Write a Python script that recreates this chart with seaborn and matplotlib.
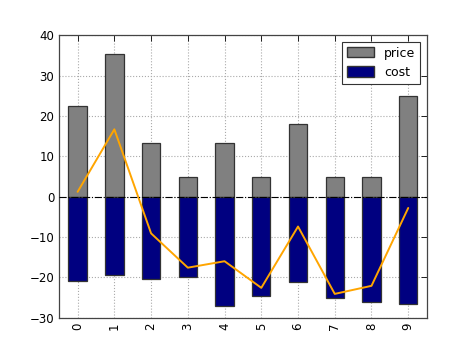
import numpy as np
import pandas as pd
import seaborn as sns
import matplotlib
matplotlib.use('Agg')
import matplotlib.pyplot as plt
from matplotlib.patches import Patch

# values
idx = [0, 1, 2, 3, 4, 5, 6, 7, 8, 9]
price = [22.4, 35.4, 13.4, 5.0, 13.4, 5.0, 17.9, 5.0, 5.0, 24.9]
cost = [-20.8, -19.5, -20.5, -19.9, -27.2, -24.5, -21.2, -25.0, -26.0, -26.5]
net = [1.2, 16.7, -9.1, -17.6, -16.0, -22.6, -7.4, -24.1, -22.1, -2.8]

df = pd.DataFrame({'idx': idx, 'price': price, 'cost': cost, 'net': net})

sns.set_style('white')
plt.rcParams['font.family'] = ['DejaVu Sans']
plt.rcParams['text.color'] = 'black'
plt.rcParams['xtick.direction'] = 'in'
plt.rcParams['ytick.direction'] = 'in'
plt.rcParams['xtick.top'] = True
plt.rcParams['ytick.right'] = True

fig, ax = plt.subplots(figsize=(4.74, 3.53), dpi=100)
fig.subplots_adjust(left=0.125, right=0.9, bottom=0.1, top=0.9)

sns.barplot(data=df, x='idx', y='price', color='gray', width=0.5,
            edgecolor='#333333', linewidth=0.9, saturation=1, ax=ax, zorder=2)
sns.barplot(data=df, x='idx', y='cost', color='navy', width=0.5,
            edgecolor='#333333', linewidth=0.9, saturation=1, ax=ax, zorder=2)
sns.lineplot(data=df, x='idx', y='net', color='orange', linewidth=1.4,
             ax=ax, zorder=3)

ax.axhline(0, color='black', linestyle='-.', linewidth=0.8, zorder=4)
ax.set_xlim(-0.5, 9.5)
ax.set_ylim(-30, 40)
ax.set_yticks([-30, -20, -10, 0, 10, 20, 30, 40])
ax.set_xticks(idx)
ax.set_xticklabels([str(i) for i in idx], rotation=90)
ax.set_xlabel('')
ax.set_ylabel('')
ax.tick_params(labelsize=8.5, length=4, width=0.6, color='black',
               labelcolor='black')
ax.grid(True, linestyle=':', color='#aaaaaa', linewidth=0.8, zorder=0)
ax.set_axisbelow(True)
for s in ax.spines.values():
    s.set_color('#444444')
    s.set_linewidth(0.9)

handles = [Patch(facecolor='gray', edgecolor='#333333', label='price'),
           Patch(facecolor='navy', edgecolor='#333333', label='cost')]
leg = ax.legend(handles=handles, loc='upper right', fontsize=9,
                fancybox=False, framealpha=1, edgecolor='#333333',
                handlelength=2.2, handleheight=0.9)
leg.get_frame().set_linewidth(0.8)

fig.savefig('out.png', dpi=100)
